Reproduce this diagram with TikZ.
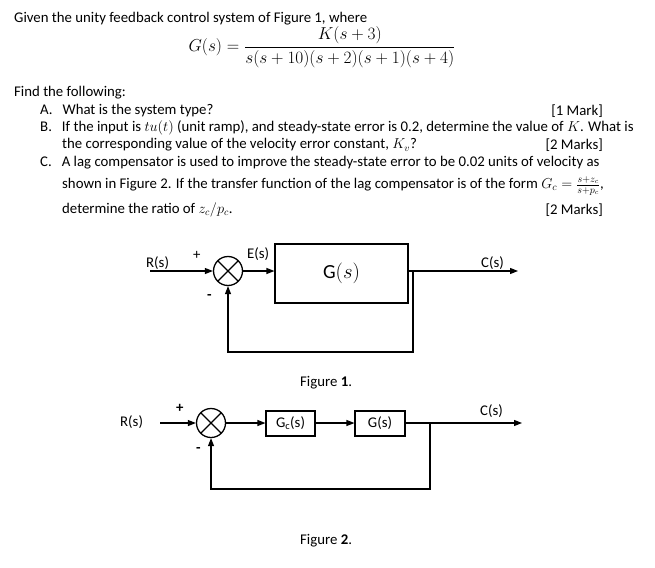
\documentclass[tikz,border=0pt]{standalone}
\usepackage{amsmath}
\usepackage{fontspec}
\setmainfont{Carlito}
\usetikzlibrary{arrows.meta}
\begin{document}
\begin{tikzpicture}[x=1pt,y=-1pt,
  txt/.style={anchor=west,inner sep=0,font=\fontsize{14.8}{16}\selectfont},
  rt/.style={anchor=east,inner sep=0,font=\fontsize{14.8}{16}\selectfont},
  blk/.style={draw,line width=1.1pt,minimum height=0},
  sum/.style={draw,line width=1.3pt,circle,minimum size=29pt,inner sep=0,path picture={\draw[line width=1.3pt] (path picture bounding box.north west)--(path picture bounding box.south east) (path picture bounding box.south west)--(path picture bounding box.north east);}},
  sig/.style={line width=1.1pt,-{Triangle[length=8pt,width=6pt]}}]
\useasboundingbox (0,0) rectangle (655,567);
\node[txt] (t1) at (14,19) {Given the unity feedback control system of Figure 1, where};
\node[inner sep=0,font=\fontsize{16.5}{18}\selectfont] (gs) at (322,47) {$G(s)=\dfrac{K(s+3)}{s(s+10)(s+2)(s+1)(s+4)}$};
\node[txt] (t2) at (14,93) {Find the following:};
\node[txt] (a) at (40,111) {A.\hspace{10pt}What is the system type?};
\node[rt] (am) at (603,111) {[1 Mark]};
\node[txt] (b) at (40,128) {B.\hspace{10pt}If the input is $tu(t)$ (unit ramp), and steady-state error is 0.2, determine the value of $K$. What is};
\node[txt] (b2) at (62,145) {the corresponding value of the velocity error constant, $K_v$?};
\node[rt] (bm) at (603,145) {[2 Marks]};
\node[txt] (c) at (40,163) {C.\hspace{10pt}A lag compensator is used to improve the steady-state error to be 0.02 units of velocity as};
\node[txt] (c2) at (62,186) {shown in Figure 2. If the transfer function of the lag compensator is of the form $G_c=\frac{s+z_c}{s+p_c}$,};
\node[txt] (c3) at (62,210) {determine the ratio of $z_c/p_c$.};
\node[rt] (cm) at (603,210) {[2 Marks]};
% Figure 1
\node[sum] (s1) at (228,271) {};
\node[blk,minimum width=133pt,minimum height=59pt] (g1) at (341.5,273.5) {\fontsize{20}{22}\selectfont\rmfamily $\mathrm{G}(s)$};
\coordinate (in1) at (150,271);
\coordinate (out1) at (518,271);
\coordinate (br1) at (413,271);
\coordinate (fb1a) at (413,352);
\coordinate (fb1b) at (228,352);
\draw[sig] (in1) -- (s1);
\draw[sig] (s1) -- (g1.west|-s1);
\draw[sig] (g1.east|-s1) -- (out1);
\draw[sig] (br1) -- (fb1a) -- (fb1b) -- (s1.south);
\node[txt] (r1) at (146,263) {R(s)};
\node[txt] (p1) at (193,255) {+};
\node[txt] (m1) at (207,297) {\textbf{-}};
\node[txt] (e1) at (247,254) {E(s)};
\node[txt] (c1) at (481,263) {C(s)};
\node[txt] (f1) at (300,383) {Figure \textbf{1}.};
% Figure 2
\node[sum] (s2) at (211,423) {};
\node[blk,minimum width=49pt,minimum height=25pt,font=\fontsize{14.8}{16}\selectfont] (gc) at (290.5,423.5) {G\textsubscript{c}(s)};
\node[blk,minimum width=50pt,minimum height=25pt,font=\fontsize{14.8}{16}\selectfont] (g2) at (380,423.5) {G(s)};
\coordinate (in2) at (160,423);
\coordinate (out2) at (522,423);
\coordinate (br2) at (430,423);
\coordinate (fb2a) at (430,489);
\coordinate (fb2b) at (211,489);
\draw[sig] (in2) -- (s2);
\draw[sig] (s2) -- (gc.west|-s2);
\draw[sig] (gc.east|-s2) -- (g2.west|-s2);
\draw[sig] (g2.east|-s2) -- (out2);
\draw[sig] (br2) -- (fb2a) -- (fb2b) -- (s2.south);
\node[txt] (r2) at (120,422) {R(s)};
\node[txt] (p2) at (176,408) {\textbf{+}};
\node[txt] (m2) at (196,450) {\textbf{-}};
\node[txt] (cc2) at (480,411) {C(s)};
\node[txt] (f2) at (300,541) {Figure \textbf{2}.};
\end{tikzpicture}
\end{document}
